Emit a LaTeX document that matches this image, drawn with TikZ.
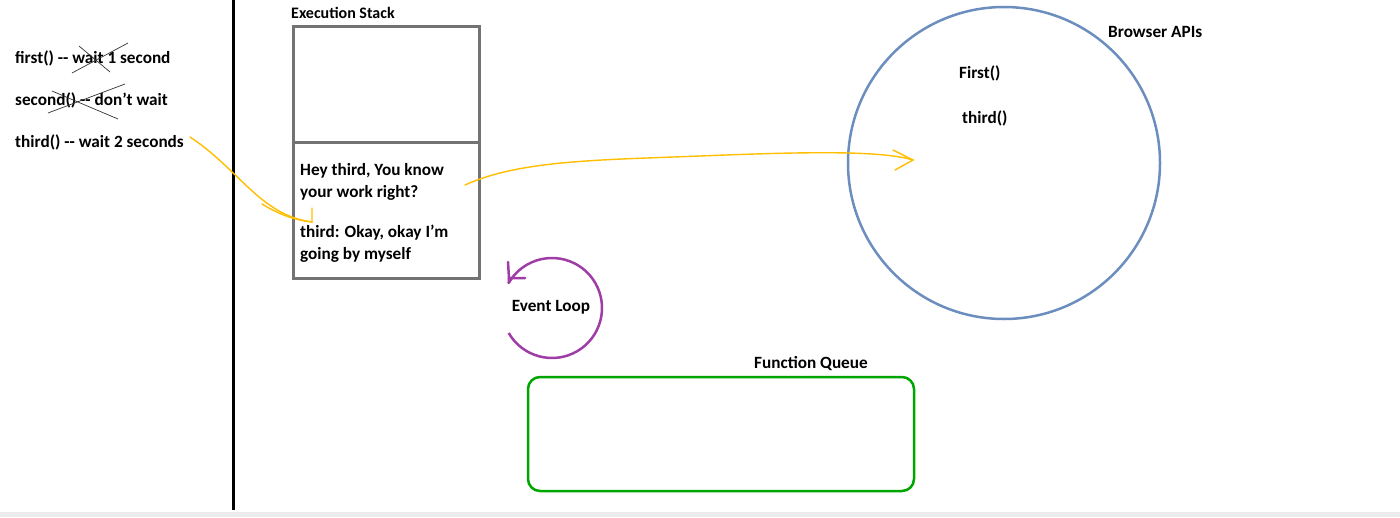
\documentclass[tikz,border=0pt]{standalone}
\usepackage{fontspec}
\setmainfont{Carlito}
\definecolor{apiblue}{RGB}{108,142,191}
\definecolor{loopc}{RGB}{160,60,165}
\definecolor{yelc}{RGB}{255,190,0}
\begin{document}
\begin{tikzpicture}[x=1pt,y=-1pt,
  txt/.style={font=\bfseries\fontsize{17.2}{20}\selectfont,anchor=west,inner sep=0pt},
  cross/.style={black!80,line width=0.7pt},
  yel/.style={draw=yelc,line width=1.4pt,line cap=round}]
\fill[white] (0,0) rectangle (1400,517);
\fill[black!8] (0,512) rectangle (1400,517);
\useasboundingbox (0,0) rectangle (1400,517);
\draw[line width=3pt] (233,0) -- (233,510);
\node[txt] (t1) at (15,58) {first() {-}{-} wait 1 second};
\node[txt] (t2) at (15,100) {second() {-}{-} don't wait};
\node[txt] (t3) at (15,142) {third() {-}{-} wait 2 seconds};
\draw[cross] (79,46) -- (110,72); \draw[cross] (72,73) -- (128,43);
\draw[cross] (52,91) -- (118,119); \draw[cross] (48,113) -- (125,84);
\node[txt,font=\bfseries\fontsize{16}{18}\selectfont] (eslbl) at (291,13) {Execution Stack};
\node[draw=black!55,line width=3pt,minimum width=186,minimum height=252,inner sep=0pt,anchor=north west] (stack) at (292,25) {};
\draw[black!55,line width=3pt] (292,142) -- (478,142);
\node[txt] (s1) at (300,171) {Hey third, You know};
\node[txt] (s2) at (300,193) {your work right?};
\node[txt] (s3) at (300,233) {third: Okay, okay I'm};
\node[txt] (s4) at (300,255) {going by myself};
\coordinate (y1) at (190,137);
\coordinate (y2) at (312,222);
\draw[yel] (y1) .. controls (240,170) and (260,215) .. (y2) -- (312,208);
\draw[yel] (262,204) .. controls (280,215) and (295,220) .. (y2);
\node[draw=apiblue,line width=2.5pt,circle,minimum size=312] (api) at (1004,163) {};
\node[txt] (apil) at (1108,32) {Browser APIs};
\node[txt] (f1) at (959,73) {First()};
\node[txt] (f2) at (962,118) {third()};
\coordinate (a1) at (465,185);
\coordinate (a2) at (913,160);
\draw[yel] (a1) .. controls (520,160) and (600,160) .. (700,156) .. controls (800,152) and (880,150) .. (a2);
\draw[yel] (893,150) -- (a2) -- (895,170);
\draw[loopc,line width=2.5pt] (552,308) ++(150:50) arc[start angle=150,end angle=-150,radius=50] coordinate (lp);
\coordinate (tip) at (509,278);
\draw[loopc,line width=2.5pt,line cap=round] (lp) -- (tip);
\draw[loopc,line width=2.5pt,line cap=round] (508,262) -- (tip) -- (525,278);
\node[txt,anchor=center] (el) at (551,307) {Event Loop};
\node[txt] (fql) at (754,364) {Function Queue};
\draw[green!65!black,line width=2.5pt,rounded corners=12] (528,377) rectangle (914,491);
\end{tikzpicture}
\end{document}
